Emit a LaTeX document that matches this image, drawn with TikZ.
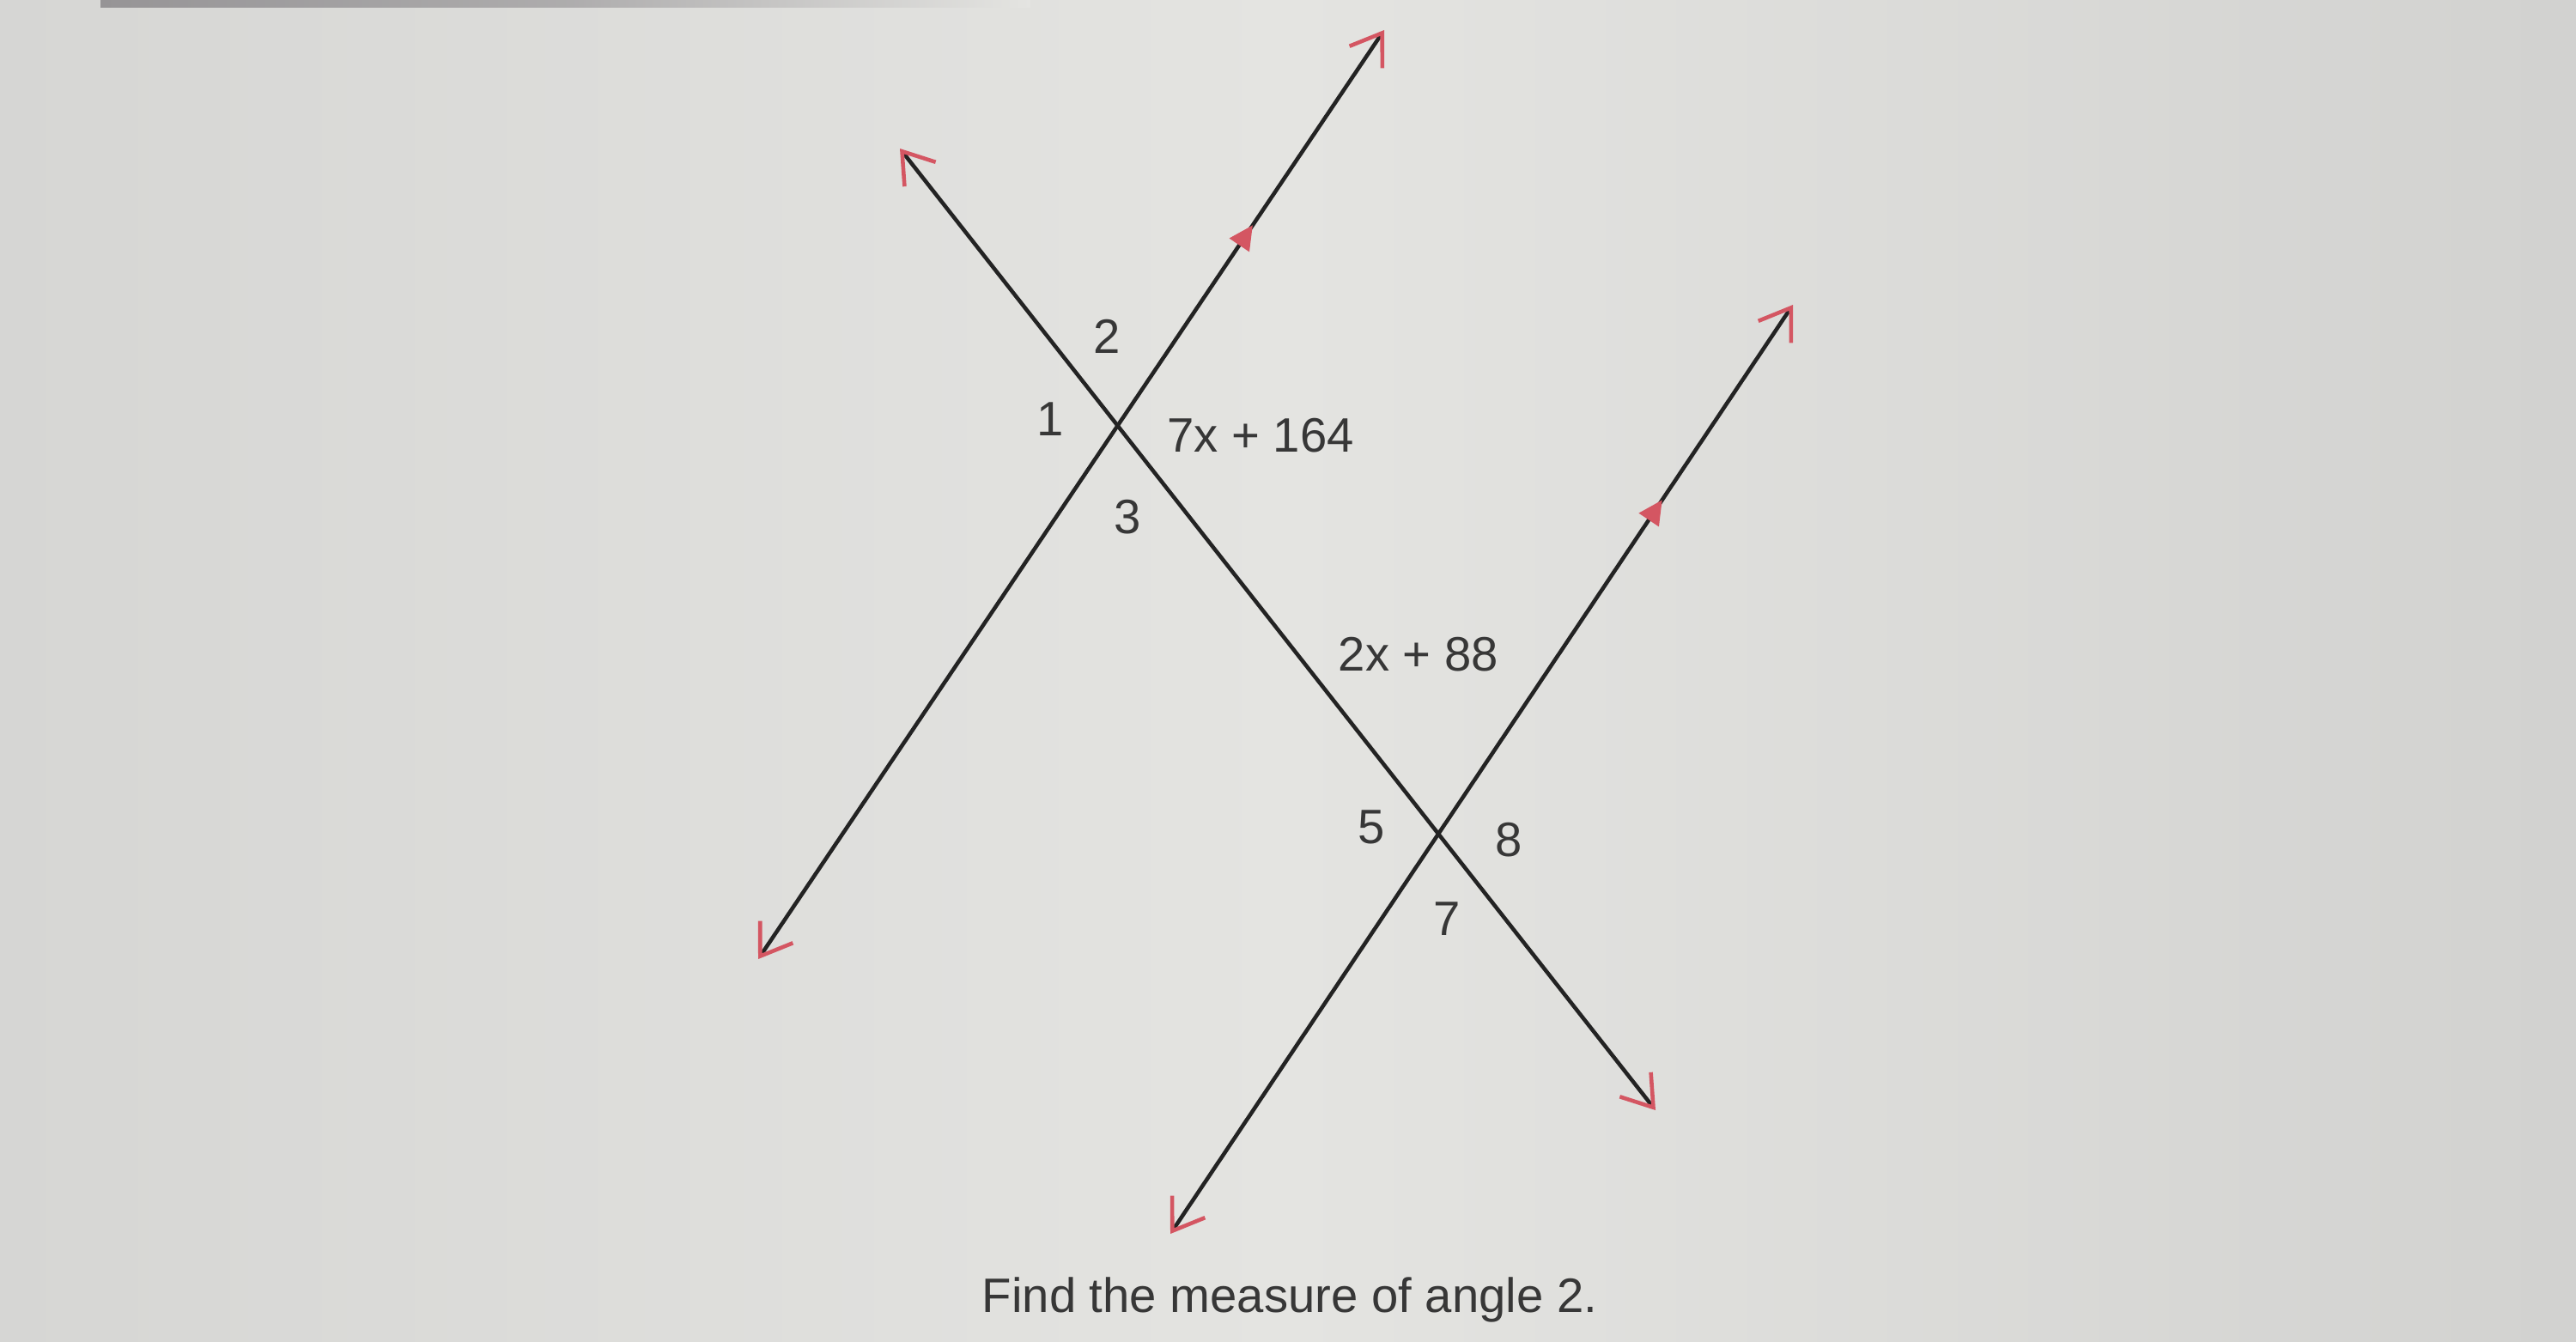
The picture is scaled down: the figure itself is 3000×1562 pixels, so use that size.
\documentclass[tikz,border=0pt]{standalone}
\usepackage{fontspec}
\setmainfont{Liberation Sans}
\usetikzlibrary{arrows.meta,decorations.markings}
\definecolor{colorbg}    {RGB}{228,228,225}
\definecolor{colorbgside}{RGB}{214,214,212}
\definecolor{colorband}  {RGB}{150,148,150}
\definecolor{colorline}  {RGB}{35,35,35}
\definecolor{colorarrow} {RGB}{212,86,98}
\definecolor{colortext}  {RGB}{55,55,55}

\begin{document}
\begin{tikzpicture}[
    x=0.01cm, y=-0.01cm,
    font={\fontsize{16}{19}\selectfont},
    barb/.tip={Straight Barb[length=0.34cm,width=0.46cm,color=colorarrow,line width=1.3pt]},
    line/.style={draw=colorline,line width=1.3pt,barb-barb},
    parallel/.style={line,postaction={decorate},
        decoration={markings,mark=at position 0.79 with {\arrow[colorarrow]{Triangle[length=0.28cm,width=0.27cm]}}}},
    label/.style={text=colortext,inner sep=0pt},
    question/.style={text=colortext,inner sep=0pt,anchor=base},
]

    % Background
    \shade[left color=colorbgside,right color=colorbgside!98!black,middle color=colorbg] (0,0) rectangle (3000,1562);
    \shade[left color=colorband,right color=colorbg,middle color=colorband!70!colorbg] (117,0) rectangle (1200,8);
    \useasboundingbox (0,0) rectangle (3000,1562);

    % End points
    \coordinate (transTop) at (1048,173);
    \coordinate (transBot) at (1928,1293);
    \coordinate (leftBot)  at (883,1117);
    \coordinate (leftTop)  at (1612,35);
    \coordinate (rightBot) at (1363,1437);
    \coordinate (rightTop) at (2088,355);

    % Lines
    \draw[line] (transBot) -- (transTop);
    \draw[parallel] (leftBot) -- (leftTop);
    \draw[parallel] (rightBot) -- (rightTop);

    % Angle labels
    \node[label] (angTwo)   at (1289,392)  {2};
    \node[label] (angOne)   at (1223,488)  {1};
    \node[label] (angTop)   at (1468,507)  {7x + 164};
    \node[label] (angThree) at (1313,602)  {3};
    \node[label] (angBot)   at (1652,762)  {2x + 88};
    \node[label] (angFive)  at (1597,963)  {5};
    \node[label] (angEight) at (1757,978)  {8};
    \node[label] (angSeven) at (1685,1070) {7};

    % Question
    \node[question] (task) at (1502,1528) {Find the measure of angle 2.};

\end{tikzpicture}
\end{document}
